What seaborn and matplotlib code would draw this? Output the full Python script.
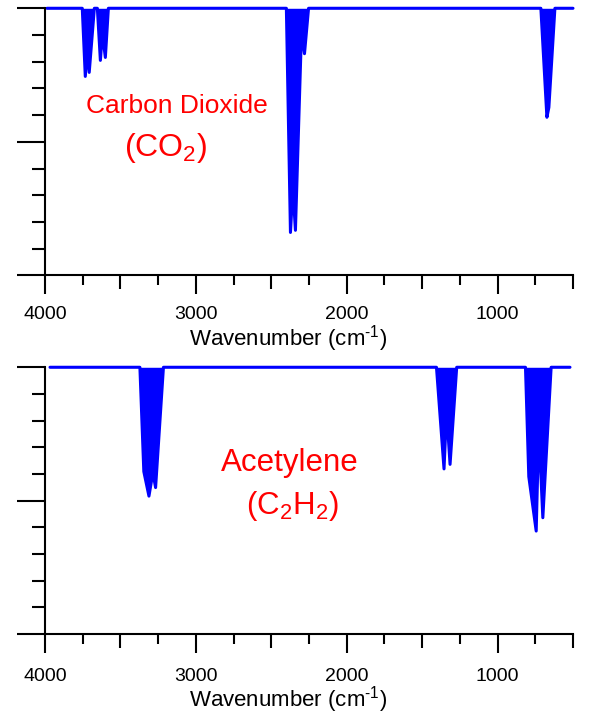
import matplotlib
matplotlib.use('Agg')
import matplotlib.pyplot as plt
import seaborn as sns
import pandas as pd
from matplotlib.ticker import MultipleLocator

# espectros (numero de onda em cm-1, transmitancia em %)
co2_wavenumber = [3987, 3753, 3733, 3720, 3707, 3673, 3653, 3633, 3620, 3600, 3580,
                  2400, 2373, 2357, 2340, 2300, 2280, 2253, 713, 673, 660, 620, 500]
co2_transmittance = [100, 100, 74.5, 84.3, 76.0, 100, 100, 80.5, 90.6, 81.6, 100,
                     100, 16.1, 32.6, 16.9, 91, 83, 100, 100, 59.2, 62.9, 100, 100]

c2h2_wavenumber = [3967, 3371, 3345, 3311, 3285, 3267, 3215, 1405, 1355, 1338, 1315,
                   1271, 815, 793, 744, 727, 700, 645, 520]
c2h2_transmittance = [100, 100, 60.9, 51.7, 60.5, 54.9, 100, 100, 61.9, 83.6, 63.6,
                      100, 100, 59.0, 38.6, 77.1, 43.6, 100, 100]

x_ticks = [4000, 3000, 2000, 1000]
x_tick_labels = ['4000', '3000', '2000', '1000']
x_label = 'Wavenumber (cm$^{\\text{-}1}$)'

azul = '#0000ff'
vermelho = '#ff0000'

sns.set_style('ticks')
plt.rcParams['font.family'] = ['Liberation Sans', 'DejaVu Sans']
plt.rcParams['mathtext.fontset'] = 'custom'
plt.rcParams['mathtext.rm'] = 'Liberation Sans'
plt.rcParams['mathtext.it'] = 'Liberation Sans'
plt.rcParams['mathtext.default'] = 'rm'


def plot_spectrum(ax, wavenumber, transmittance, label_pad, xlabel_y):
    df = pd.DataFrame({'wn': wavenumber, 't': transmittance})
    ax.fill_between(df['wn'], df['t'], 100, color=azul, lw=0)
    sns.lineplot(data=df, x='wn', y='t', ax=ax, color=azul, lw=2.2, sort=False)
    for line in ax.lines:
        line.set_clip_on(False)

    ax.set_xlim(4000, 500)
    ax.set_ylim(0, 100)
    sns.despine(ax=ax)
    for side in ['left', 'bottom']:
        ax.spines[side].set_linewidth(1.5)
        ax.spines[side].set_color('black')

    ax.yaxis.set_major_locator(MultipleLocator(50))
    ax.yaxis.set_minor_locator(MultipleLocator(10))
    ax.tick_params(axis='y', which='major', direction='out', length=20, width=1.5,
                   labelleft=False, color='black')
    ax.tick_params(axis='y', which='minor', direction='out', length=9.5, width=1.5,
                   color='black')

    ax.set_xticks(x_ticks)
    ax.set_xticklabels(x_tick_labels)
    ax.xaxis.set_minor_locator(MultipleLocator(250))
    ax.tick_params(axis='x', which='major', direction='out', length=13.5, width=1.5,
                   labelsize=14, pad=label_pad, color='black', labelcolor='black')
    ax.tick_params(axis='x', which='minor', direction='out', length=7.2, width=1.5,
                   color='black')
    # ticks de 500 um pouco maiores
    locs = ax.xaxis.get_minorticklocs()
    for tick, loc in zip(ax.xaxis.get_minor_ticks(len(locs)), locs):
        if loc % 500 == 0:
            tick.tick1line.set_markersize(10)

    ax.set_ylabel('')
    ax.set_xlabel(x_label, fontsize=16, color='black')
    ax.xaxis.set_label_coords(0.46, xlabel_y)
    ax.xaxis.label.set_verticalalignment('center')


fig = plt.figure(figsize=(5.97, 7.2), dpi=100)
ax1 = fig.add_axes([0.0754, 0.6174, 0.8844, 0.3711])
ax2 = fig.add_axes([0.0754, 0.1194, 0.8844, 0.3705])

plot_spectrum(ax1, co2_wavenumber, co2_transmittance, 8.5, -0.237)
ax1.text(3123, 63.3, 'Carbon Dioxide', color=vermelho, fontsize=19, ha='center', va='center')
ax1.text(3200, 47.6, '(CO$_2$)', color=vermelho, fontsize=23, ha='center', va='center')

plot_spectrum(ax2, c2h2_wavenumber, c2h2_transmittance, 11, -0.247)
ax2.text(2380, 64.3, 'Acetylene', color=vermelho, fontsize=22.5, ha='center', va='center')
ax2.text(2360, 48.0, '(C$_2$H$_2$)', color=vermelho, fontsize=22.5, ha='center', va='center')

plt.savefig('out.png', dpi=100)
